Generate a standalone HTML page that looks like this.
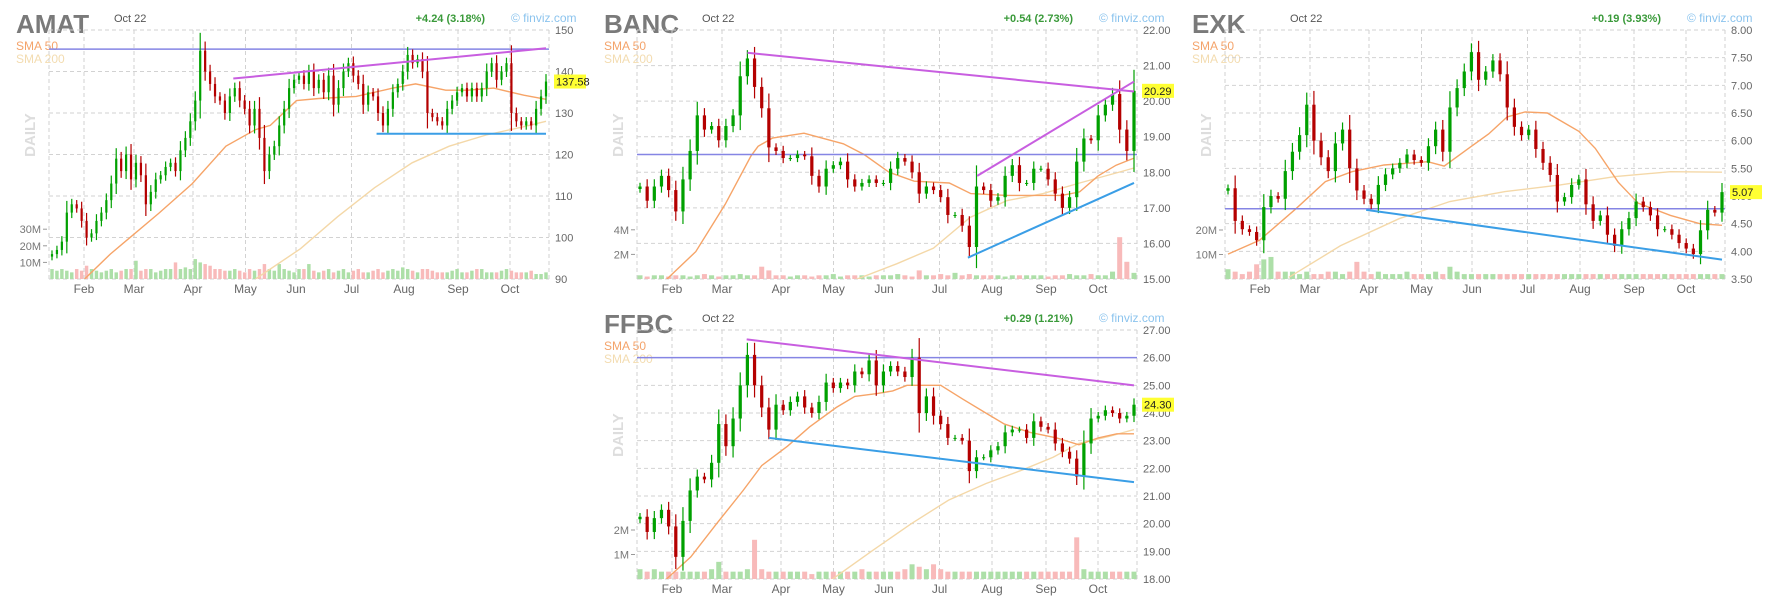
<!DOCTYPE html>
<html><head><meta charset="utf-8"><style>
html,body{margin:0;padding:0;background:#fff;}
svg{display:block;font-family:"Liberation Sans",Arial,sans-serif;}
</style></head><body>
<svg id="root" width="1773" height="606" viewBox="0 0 1773 606" xmlns="http://www.w3.org/2000/svg">
<rect x="0" y="0" width="1773" height="606" fill="#fff"/>
<g>
<text x="16" y="33" font-size="26" font-weight="bold" fill="#7a7a7a">AMAT</text>
<text x="114" y="22" font-size="11" fill="#555">Oct 22</text>
<text x="485" y="22" font-size="11" font-weight="bold" fill="#3a9a3a" text-anchor="end">+4.24 (3.18%)</text>
<text x="511" y="22" font-size="12" fill="#8cc4ee">© finviz.com</text>
<text x="16" y="50" font-size="12" fill="#f4a36a">SMA 50</text>
<text x="16" y="63" font-size="12" fill="#f3dcb0">SMA 200</text>
<text transform="translate(35,135) rotate(-90)" font-size="15" font-weight="bold" fill="#ddd" text-anchor="middle">DAILY</text>
</g>
<g>
<text x="604" y="33" font-size="26" font-weight="bold" fill="#7a7a7a">BANC</text>
<text x="702" y="22" font-size="11" fill="#555">Oct 22</text>
<text x="1073" y="22" font-size="11" font-weight="bold" fill="#3a9a3a" text-anchor="end">+0.54 (2.73%)</text>
<text x="1099" y="22" font-size="12" fill="#8cc4ee">© finviz.com</text>
<text x="604" y="50" font-size="12" fill="#f4a36a">SMA 50</text>
<text x="604" y="63" font-size="12" fill="#f3dcb0">SMA 200</text>
<text transform="translate(623,135) rotate(-90)" font-size="15" font-weight="bold" fill="#ddd" text-anchor="middle">DAILY</text>
</g>
<g>
<text x="1192" y="33" font-size="26" font-weight="bold" fill="#7a7a7a">EXK</text>
<text x="1290" y="22" font-size="11" fill="#555">Oct 22</text>
<text x="1661" y="22" font-size="11" font-weight="bold" fill="#3a9a3a" text-anchor="end">+0.19 (3.93%)</text>
<text x="1687" y="22" font-size="12" fill="#8cc4ee">© finviz.com</text>
<text x="1192" y="50" font-size="12" fill="#f4a36a">SMA 50</text>
<text x="1192" y="63" font-size="12" fill="#f3dcb0">SMA 200</text>
<text transform="translate(1211,135) rotate(-90)" font-size="15" font-weight="bold" fill="#ddd" text-anchor="middle">DAILY</text>
</g>
<g>
<text x="604" y="333" font-size="26" font-weight="bold" fill="#7a7a7a">FFBC</text>
<text x="702" y="322" font-size="11" fill="#555">Oct 22</text>
<text x="1073" y="322" font-size="11" font-weight="bold" fill="#3a9a3a" text-anchor="end">+0.29 (1.21%)</text>
<text x="1099" y="322" font-size="12" fill="#8cc4ee">© finviz.com</text>
<text x="604" y="350" font-size="12" fill="#f4a36a">SMA 50</text>
<text x="604" y="363" font-size="12" fill="#f3dcb0">SMA 200</text>
<text transform="translate(623,435) rotate(-90)" font-size="15" font-weight="bold" fill="#ddd" text-anchor="middle">DAILY</text>
</g>
</svg>
<script>
const monthLabels = ["Feb","Mar","Apr","May","Jun","Jul","Aug","Sep","Oct"];
const monthPos = [0.07,0.17,0.288,0.393,0.494,0.605,0.71,0.818,0.922];

// AMAT
const amatClose = [96,97,99,106,108,107,104,100,101,104,106,109,113,119,116,120,114,118,115,108,111,114,115,117,118,116,121,124,128,133,145,140,137,134,133,130,134,136,133,131,127,131,124,116,120,122,127,131,136,138,139,137,140,136,138,135,139,132,136,140,142,139,137,132,135,134,130,127,131,135,137,140,144,142,143,140,130,129,128,127,131,133,135,136,134,136,134,136,140,142,138,140,142,130,128,127,128,127,131,134,137.58];
const amatVol = [6,5,6,5,4,6,5,8,6,5,4,5,6,4,5,6,6,11,5,6,6,4,5,6,6,10,6,7,6,12,10,9,8,6,6,5,5,6,5,4,6,5,6,9,6,5,9,6,5,4,6,6,9,5,4,5,6,4,5,6,4,5,6,4,4,5,6,4,5,6,5,7,6,5,4,6,6,5,4,4,4,5,6,4,4,5,6,6,4,4,4,5,6,5,4,4,4,5,3,3,4];
const amatSma50Day = [6.6,11.8,21.6,28.4,35.2,41.2,44.2,49.5,54,61.6,69,73.6,79.7,84.2,89.4,95.5,100];
const amatSma50 = [90,96,105.8,113,122,126,127,133,133.5,134,136,137,135.5,135.5,136,134.3,133.3];
const amatSma200Day = [41.2,50.3,57.8,65.3,72.9,80.4,87.9,95.5,100];
const amatSma200 = [90,97.3,105,112,118,122,124.7,126.7,128];
const amatTicks = [90,100,110,120,130,140,150];
const amatTickLabels = ["90","100","110","120","130","140","150"];
const amatVolTicks = [10,20,30];
const amatVolTickLabels = ["10M","20M","30M"];
const amatHLine = [145.4];
const amatResistance = [36.7,138.3,100,145.6];
const amatSupport = [65.7,125,100,125];

// BANC
const bancClose = [17.6,17.2,17.6,17.9,17.5,16.9,17.8,18.6,19.6,19.2,19.3,18.9,19.3,19.6,20.7,21.2,20.4,19.8,18.7,18.6,18.4,18.4,18.5,18.45,17.9,17.6,18.1,18.2,18.3,17.8,17.6,17.7,17.8,17.7,17.7,18.1,18.4,18.3,18.0,17.4,17.6,17.5,17.3,16.8,16.8,16.5,15.9,17.6,17.5,17.2,17.3,17.9,18.2,17.7,17.7,18.1,18.1,17.8,17.4,17.0,17.3,18.3,18.95,18.9,19.6,19.9,20.2,19.2,18.6,20.29];
const bancVol = [0.3,0.2,0.3,0.3,0.2,0.3,0.3,0.2,0.3,0.4,0.3,0.2,0.3,0.3,0.4,0.3,0.3,1.0,0.7,0.3,0.3,0.2,0.3,0.3,0.2,0.3,0.3,0.4,0.2,0.3,0.3,0.3,0.2,0.3,0.3,0.3,0.4,0.3,0.2,0.7,0.3,0.3,0.4,0.3,0.5,0.3,0.4,0.3,0.3,0.3,0.3,0.2,0.3,0.3,0.3,0.3,0.3,0.2,0.3,0.3,0.4,0.3,0.3,0.4,0.3,0.3,0.6,3.4,1.4,0.5];
const bancSma50Day = [3.5,7.8,11.9,15.5,16.5,18.5,22.9,28.4,31.3,34.8,38.3,43.2,46.2,51.2,58.9,61.4,64,66.5,69];
const bancSma50 = [14.95,15.77,17.1,18.46,18.73,18.96,19.1,18.8,18.5,18.0,17.75,17.7,17.4,17.35,17.35,17.45,17.9,18.2,18.4];
const bancSma200Day = [29.7,35.9,41,46.1,51.2,56.3,61.4,66.5,69];
const bancSma200 = [14.95,15.43,15.87,16.73,17.2,17.4,17.7,17.98,18.12];
const bancTicks = [15,16,17,18,19,20,21,22];
const bancTickLabels = ["15.00","16.00","17.00","18.00","19.00","20.00","21.00","22.00"];
const bancVolTicks = [2,4];
const bancVolTickLabels = ["2M","4M"];
const bancHLine = [18.5];
const bancResistance = [15.0,21.36,69,20.27];
const bancRising = [47.1,17.9,69,20.55];
const bancSupport = [45.8,15.6,69,17.7];

// EXK
const exkClose = [5.14,4.55,4.4,4.35,4.2,4.8,5.0,4.95,5.45,5.8,6.1,6.65,6.0,5.7,5.45,5.95,6.2,5.5,5.1,4.95,4.85,5.2,5.39,5.5,5.6,5.75,5.65,5.6,5.9,6.2,5.8,6.6,6.95,7.25,7.6,7.1,7.25,7.45,7.2,6.6,6.25,6.1,6.2,5.85,5.6,5.38,4.9,4.98,5.2,5.3,4.85,4.55,4.65,4.3,4.1,4.4,4.6,4.9,4.8,4.65,4.4,4.4,4.3,4.15,4.05,3.95,4.38,4.75,4.7,5.07];
const exkVol = [4,3,2,3,6,8,9,3,3,3,2,3,2,2,3,3,2,3,7,3,2,3,2,2,2,3,2,2,2,3,2,5,3,2,2,2,2,2,2,2,2,2,2,2,2,2,2,2,2,2,2,2,2,2,2,2,2,2,2,2,2,2,2,2,2,2,2,2,2,2];
const exkSma50Day = [0,4.4,9.5,13.6,17.3,21.8,27.9,30.2,33.8,36.4,39,41.5,44.6,49,51.3,54.5,57.3,61.8,65.9,69];
const exkSma50 = [3.95,4.2,4.77,5.26,5.44,5.56,5.62,5.54,5.88,6.12,6.43,6.52,6.5,6.17,5.86,5.25,4.87,4.65,4.5,4.47];
const exkSma200Day = [8.5,15.7,23.9,31,38.7,46.4,54.1,61.8,69];
const exkSma200 = [3.53,4.1,4.59,4.9,5.08,5.2,5.35,5.44,5.43];
const exkTicks = [3.5,4,4.5,5,5.5,6,6.5,7,7.5,8];
const exkTickLabels = ["3.50","4.00","4.50","5.00","5.50","6.00","6.50","7.00","7.50","8.00"];
const exkVolTicks = [10,20];
const exkVolTickLabels = ["10M","20M"];
const exkHLine = [4.77];
const exkSupport = [19.3,4.75,69,3.85];

// FFBC
const ffbcClose = [20.25,19.7,20.2,20.5,19.9,18.8,20.1,21.2,21.7,21.6,22.2,23.6,22.8,23.8,25.0,26.1,25.0,24.2,23.4,24.3,24.1,24.4,24.6,24.2,24.0,24.4,25.1,24.9,25.1,25.0,25.5,25.4,25.9,25.0,25.5,25.7,25.5,25.3,26.0,24.0,24.6,23.9,23.6,23.1,23.1,23.0,21.9,22.4,22.4,22.65,22.8,23.3,23.4,23.4,23.1,23.7,23.5,23.4,22.9,22.6,22.35,21.7,22.9,23.8,23.9,24.1,24.0,23.8,23.9,24.30];
const ffbcVol = [0.4,0.3,0.4,0.3,0.3,0.3,0.3,0.3,0.3,0.3,0.4,0.7,0.3,0.3,0.3,0.4,1.6,0.4,0.3,0.3,0.3,0.3,0.3,0.3,0.2,0.3,0.3,0.3,0.3,0.3,0.3,0.4,0.3,0.3,0.3,0.3,0.3,0.4,0.6,0.5,0.4,0.6,0.4,0.3,0.3,0.3,0.3,0.3,0.3,0.3,0.3,0.3,0.3,0.3,0.3,0.3,0.3,0.3,0.3,0.3,0.3,1.7,0.4,0.3,0.3,0.3,0.3,0.3,0.3,0.3];
const ffbcSma50Day = [3.7,7.1,10.7,14.4,17,20.6,23.7,27.4,30,33.1,35.3,37.3,39.4,42,45.1,48.3,50.9,54.5,58.2,61.3,64,66.6,69];
const ffbcSma50 = [18.0,18.8,20,21.2,22.1,22.8,23.5,24.2,24.6,24.7,24.8,25,25,25,24.5,24,23.6,23.3,23.1,22.85,23.1,23.25,23.25];
const ffbcSma200Day = [26.9,32.6,37.9,43.1,48.3,53.5,57.7,61.3,65.5,69];
const ffbcSma200 = [18,19.05,20,20.85,21.45,21.95,22.4,22.9,23.15,23.4];
const ffbcTicks = [18,19,20,21,22,23,24,25,26,27];
const ffbcTickLabels = ["18.00","19.00","20.00","21.00","22.00","23.00","24.00","25.00","26.00","27.00"];
const ffbcVolTicks = [1,2];
const ffbcVolTickLabels = ["1M","2M"];
const ffbcHLine = [26.0];
const ffbcResistance = [14.9,26.66,69,25.0];
const ffbcSupport = [18,23.1,69,21.5];

const NS = "http://www.w3.org/2000/svg";
const root = document.getElementById('root');
function mk(tag, attrs, parent){
  const e = document.createElementNS(NS, tag);
  for (const k in attrs) e.setAttribute(k, attrs[k]);
  parent.appendChild(e);
  return e;
}

function drawChart(name, L, R, T, B, close, vol, volPx, volTicks, volTickLabels, ticks, tickLabels,
                   s50d, s50v, s200d, s200v, hline, trends, priceLabel){
  const yMin = ticks[0], yMax = ticks[ticks.length-1];
  const N = close.length;
  const xs = i => L + 3 + i/(N-1)*(R-L-6);
  const ys = v => B - (v - yMin)/(yMax - yMin)*(B - T);
  const vy = v => B - v*volPx;

  const g = mk('g', {}, root);
  
  

  const clip = mk('clipPath', {id: name+'-clip'}, g);
  mk('rect', {x:L, y:T-2, width:R-L, height:B-T+2}, clip);

  const grid = mk('g', {stroke:'#d2d2d2', 'stroke-dasharray':'4,3', 'stroke-width':1, fill:'none'}, g);
  
  
  ticks.forEach(t => {
    const ln = mk('line', {x1:L, x2:R, y1:ys(t), y2:ys(t)}, grid);
    
    
  });
  [0].concat(monthPos).concat([1]).forEach(p => {
    const x = L + p*(R-L);
    const ln = mk('line', {x1:x, x2:x, y1:T, y2:B}, grid);
    
    
  });

  ticks.forEach((t, k) => {
    const tx = mk('text', {x:R+6, y:ys(t)+4, 'font-size':11, fill:'#666'}, g);
    tx.textContent = tickLabels[k];
    
    
  });
  monthLabels.forEach((m, k) => {
    const tx = mk('text', {x:L + monthPos[k]*(R-L), y:B+14, 'font-size':12, fill:'#666', 'text-anchor':'middle'}, g);
    tx.textContent = m;
    
    
  });
  volTicks.forEach((v, k) => {
    const tx = mk('text', {x:L-8, y:vy(v)+4, 'font-size':11, fill:'#777', 'text-anchor':'end'}, g);
    tx.textContent = volTickLabels[k];
    
    
    const tk = mk('line', {x1:L-6, x2:L-2, y1:vy(v), y2:vy(v), stroke:'#999'}, g);
    
    
  });

  const plot = mk('g', {'clip-path':'url(#'+name+'-clip)'}, g);
  
  

  const step = (R-L-6)/(N-1);
  const bw = Math.max(1.5, step*0.45);
  const range = yMax - yMin;

  for (let i=0;i<N;i++){
    const o = i>0 ? close[i-1] : close[i]-range*0.01;
    const up = close[i] >= o;
    const v = vol[i] || 0;
    const r = mk('rect', {x:xs(i)-step*0.35, y:vy(v), width:step*0.7, height:B-vy(v), fill: up ? '#addfa8' : '#f8baba'}, plot);
    
    
  }

  const pathFrom = (d, v) => d.map((di, k) => (k?'L':'M') + xs(di).toFixed(1) + ',' + ys(v[k]).toFixed(1)).join('');
  const s200 = mk('path', {d:pathFrom(s200d, s200v), stroke:'#f4d8a8', 'stroke-width':1.4, fill:'none'}, plot);
  
  
  const s50 = mk('path', {d:pathFrom(s50d, s50v), stroke:'#f6a468', 'stroke-width':1.4, fill:'none'}, plot);
  
  

  hline.forEach(h => {
    const ln = mk('line', {x1:L, x2:R, y1:ys(h), y2:ys(h), stroke:'#8585e4', 'stroke-width':1.5}, plot);
    
    
  });

  for (let i=0;i<N;i++){
    const o = i>0 ? close[i-1] : close[i]-range*0.01;
    const c = close[i];
    const up = c >= o;
    const col = up ? '#00a000' : '#b40000';
    const hi = Math.max(o,c) + Math.abs(c-o)*0.3 + range*0.012;
    const lo = Math.min(o,c) - Math.abs(c-o)*0.3 - range*0.012;
    const w = mk('line', {x1:xs(i), x2:xs(i), y1:ys(hi), y2:ys(lo), stroke:col, 'stroke-width':1.2}, plot);
    
    
    const top = ys(Math.max(o,c)), bot = ys(Math.min(o,c));
    const b = mk('rect', {x:xs(i)-bw/2, y:top, width:bw, height:Math.max(1, bot-top), fill:col}, plot);
    
    
  }

  trends.forEach(t => {
    const ln = mk('line', {x1:xs(t.d[0]), y1:ys(t.d[1]), x2:xs(t.d[2]), y2:ys(t.d[3]), stroke:t.color, 'stroke-width':2}, plot);
    
    
  });

  const py = ys(close[N-1]);
  const bx = mk('rect', {x:R+5, y:py-7, width:32, height:14, fill:'#ffff33'}, g);
  
  
  const pt = mk('text', {x:R+7, y:py+4, 'font-size':11, fill:'#222'}, g);
  pt.textContent = priceLabel;
  
  
}

drawChart('amat', 49, 549, 30, 279, amatClose, amatVol, 1.66, amatVolTicks, amatVolTickLabels, amatTicks, amatTickLabels,
  amatSma50Day, amatSma50, amatSma200Day, amatSma200, amatHLine,
  [{d:amatResistance, color:'#c85ee0', label:'resistance-trendline'},{d:amatSupport, color:'#3a9ee6', label:'support-line'}], '137.58');

drawChart('banc', 637, 1137, 30, 279, bancClose, bancVol, 12.3, bancVolTicks, bancVolTickLabels, bancTicks, bancTickLabels,
  bancSma50Day, bancSma50, bancSma200Day, bancSma200, bancHLine,
  [{d:bancResistance, color:'#c85ee0', label:'resistance-trendline'},{d:bancRising, color:'#c85ee0', label:'rising-trendline'},{d:bancSupport, color:'#3a9ee6', label:'support-trendline'}], '20.29');

drawChart('exk', 1225, 1725, 30, 279, exkClose, exkVol, 2.45, exkVolTicks, exkVolTickLabels, exkTicks, exkTickLabels,
  exkSma50Day, exkSma50, exkSma200Day, exkSma200, exkHLine,
  [{d:exkSupport, color:'#3a9ee6', label:'support-trendline'}], '5.07');

drawChart('ffbc', 637, 1137, 330, 579, ffbcClose, ffbcVol, 24.5, ffbcVolTicks, ffbcVolTickLabels, ffbcTicks, ffbcTickLabels,
  ffbcSma50Day, ffbcSma50, ffbcSma200Day, ffbcSma200, ffbcHLine,
  [{d:ffbcResistance, color:'#c85ee0', label:'resistance-trendline'},{d:ffbcSupport, color:'#3a9ee6', label:'support-trendline'}], '24.30');
</script>
</body></html>
